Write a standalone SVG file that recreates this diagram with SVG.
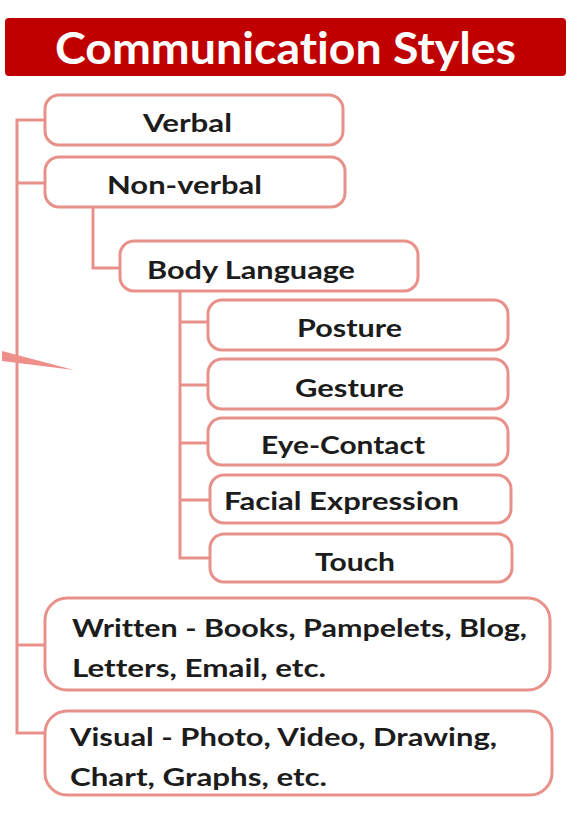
<svg xmlns="http://www.w3.org/2000/svg" width="571" height="817" viewBox="0 0 571 817">
<style>
.box{fill:#fff;stroke:#E8918B;stroke-width:3}
.con{fill:none;stroke:#E8918B;stroke-width:3}
.lbl{font-family:Lato,"Open Sans","Liberation Sans",sans-serif;font-weight:bold;font-size:25px;fill:#1c1c1c;font-variant-ligatures:none}
.title{font-family:Lato,"Open Sans","Liberation Sans",sans-serif;font-weight:bold;font-size:44px;fill:#fff;font-variant-ligatures:none}
</style>
<rect width="571" height="817" fill="#fff"/>
<g id="title">
<rect x="5" y="18" width="561" height="58" rx="4" fill="#C00000"/>
<text class="title" x="55" y="64" textLength="461" lengthAdjust="spacingAndGlyphs">Communication Styles</text>
</g>
<g id="connectors">
<path class="con" d="M45,120 H17 V733 H45 M17,183 H45 M17,645 H45"/>
<path class="con" d="M93,207 V268 H120"/>
<path class="con" d="M180,291 V558 H210 M180,322 H208 M180,385 H208 M180,443 H208 M180,500 H210"/>
<polygon points="2,351 2,361 74,370" fill="#EE8F8A"/>
</g>
<g id="verbal"><rect class="box" x="45" y="95" width="298" height="50" rx="14"/><text class="lbl" x="143" y="132" textLength="89" lengthAdjust="spacingAndGlyphs">Verbal</text></g>
<g id="nonverbal"><rect class="box" x="45" y="157" width="300" height="50" rx="14"/><text class="lbl" x="107" y="194" textLength="155" lengthAdjust="spacingAndGlyphs">Non-verbal</text></g>
<g id="bodylanguage"><rect class="box" x="120" y="241" width="298" height="50" rx="14"/><text class="lbl" x="147" y="279" textLength="208" lengthAdjust="spacingAndGlyphs">Body Language</text></g>
<g id="posture"><rect class="box" x="208" y="300" width="300" height="50" rx="14"/><text class="lbl" x="297" y="337" textLength="105" lengthAdjust="spacingAndGlyphs">Posture</text></g>
<g id="gesture"><rect class="box" x="208" y="359" width="300" height="50" rx="14"/><text class="lbl" x="295" y="397" textLength="109" lengthAdjust="spacingAndGlyphs">Gesture</text></g>
<g id="eyecontact"><rect class="box" x="208" y="418" width="300" height="47" rx="14"/><text class="lbl" x="261" y="454" textLength="164" lengthAdjust="spacingAndGlyphs">Eye-Contact</text></g>
<g id="facial"><rect class="box" x="210" y="475" width="301" height="48" rx="14"/><text class="lbl" x="224" y="510" textLength="235" lengthAdjust="spacingAndGlyphs">Facial Expression</text></g>
<g id="touch"><rect class="box" x="210" y="534" width="302" height="48" rx="14"/><text class="lbl" x="315" y="571" textLength="80" lengthAdjust="spacingAndGlyphs">Touch</text></g>
<g id="written"><rect class="box" x="45" y="598" width="505" height="92" rx="22"/>
<text class="lbl" x="72" y="637" textLength="455" lengthAdjust="spacingAndGlyphs">Written - Books, Pampelets, Blog,</text>
<text class="lbl" x="72" y="677" textLength="254" lengthAdjust="spacingAndGlyphs">Letters, Email, etc.</text></g>
<g id="visual"><rect class="box" x="45" y="711" width="507" height="84" rx="22"/>
<text class="lbl" x="70" y="746" textLength="427" lengthAdjust="spacingAndGlyphs">Visual - Photo, Video, Drawing,</text>
<text class="lbl" x="70" y="786" textLength="257" lengthAdjust="spacingAndGlyphs">Chart, Graphs, etc.</text></g>
</svg>
